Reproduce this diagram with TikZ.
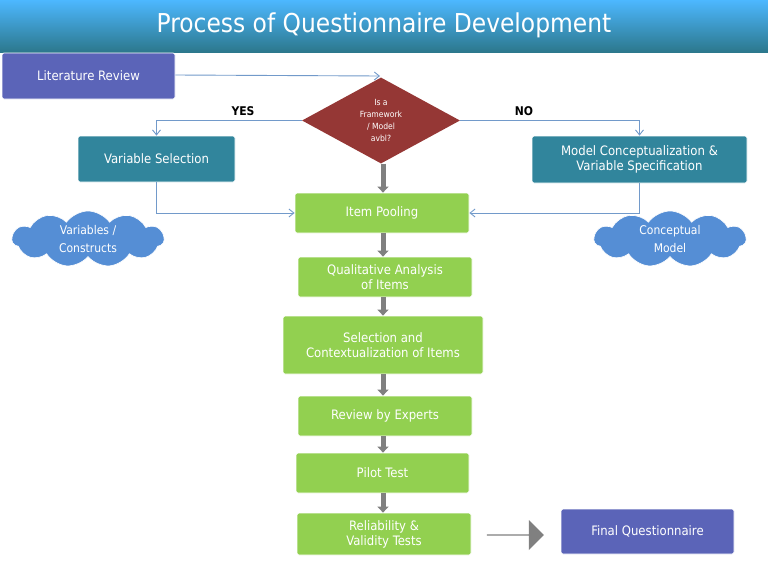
\documentclass[tikz,border=0pt]{standalone}
\usepackage{fontspec}
\setmainfont{DejaVu Sans Condensed}
\usetikzlibrary{shapes.geometric,shapes.symbols,shapes.arrows,arrows.meta}
\definecolor{purp}{HTML}{5B64B8}
\definecolor{teal}{HTML}{31859C}
\definecolor{grn}{HTML}{92D050}
\definecolor{dred}{HTML}{953735}
\definecolor{cld}{HTML}{558ED5}
\definecolor{blu}{HTML}{4F81BD}
\begin{document}
\begin{tikzpicture}[x=1pt,y=-1pt,
 box/.style={draw=white,line width=0.8pt,rounded corners=2pt,text=white,align=center,font=\fontsize{13}{15}\selectfont,inner sep=2pt},
 conn/.style={draw=blu!80,line width=0.9pt,-{Straight Barb[length=5pt,width=8pt]}},
 garr/.style={draw=gray,line width=5pt,-{Triangle[length=6pt,width=11pt]}},
 cloudn/.style={cloud,cloud puffs=11,cloud puff arc=110,aspect=2.6,fill=cld,draw=white,line width=0.6pt,text=white,align=center,font=\fontsize{12}{18}\selectfont,inner sep=0pt}]
\useasboundingbox (0,0) rectangle (768,576);
\shade[top color=cyan!60!blue!70,bottom color=teal!90!black] (0,0) rectangle (768,52);
\node[text=white,font=\fontsize{26}{28}\selectfont] (title) at (384,25) {Process of Questionnaire Development};
\node[box,fill=purp,minimum width=173pt,minimum height=46pt] (lit) at (88.5,76) {Literature Review};
\node[diamond,fill=dred,minimum width=158pt,minimum height=86pt,inner sep=0pt,aspect=1.85,text=white,align=center,font=\fontsize{8.5}{12}\selectfont] (dia) at (381,120.5) {Is a\\Framework\\/ Model\\avbl?};
\node[font=\bfseries\fontsize{12}{14}\selectfont] (yes) at (243,111) {YES};
\node[font=\bfseries\fontsize{12}{14}\selectfont] (no) at (524,111) {NO};
\node[box,fill=teal,minimum width=157pt,minimum height=46pt] (var) at (156.5,159) {Variable Selection};
\node[box,fill=teal,minimum width=215pt,minimum height=47pt] (mod) at (639.5,159.5) {Model Conceptualization \&\\Variable Specification};
\node[box,fill=grn,minimum width=174pt,minimum height=40pt] (pool) at (382,213) {Item Pooling};
\node[box,fill=grn,minimum width=174pt,minimum height=40pt] (qual) at (385,277) {Qualitative Analysis\\of Items};
\node[box,fill=grn,minimum width=200pt,minimum height=58pt] (sel) at (383,345) {Selection and\\Contextualization of Items};
\node[box,fill=grn,minimum width=174pt,minimum height=40pt] (rev) at (385,416) {Review by Experts};
\node[box,fill=grn,minimum width=173pt,minimum height=40pt] (pil) at (382.5,473) {Pilot Test};
\node[box,fill=grn,minimum width=174pt,minimum height=42pt] (rel) at (384,534) {Reliability \&\\Validity Tests};
\node[box,fill=purp,minimum width=173pt,minimum height=45pt] (fin) at (647.5,531.5) {Final Questionnaire};
\node[cloudn,minimum width=152pt,minimum height=56pt] (c1) at (88,239) {Variables /\\Constructs};
\node[cloudn,minimum width=152pt,minimum height=56pt] (c2) at (670,239) {Conceptual\\Model};
\coordinate (dtop) at (380,76);
\draw[conn] (lit.east |- 0,75) -- (dtop);
\draw[conn] (dia.west) -| (var.north);
\draw[conn] (dia.east) -| (mod.north);
\draw[conn] (var.south) |- (pool.west);
\draw[conn] (mod.south) |- (pool.east);
\draw[garr] (dia.south -| 383,0) -- (pool.north -| 383,0);
\draw[garr] (pool.south -| 383,0) -- (qual.north -| 383,0);
\draw[garr] (qual.south -| 383,0) -- (sel.north -| 383,0);
\draw[garr] (sel.south -| 383,0) -- (rev.north -| 383,0);
\draw[garr] (rev.south -| 383,0) -- (pil.north -| 383,0);
\draw[garr] (pil.south -| 383,0) -- (rel.north -| 383,0);
\node[single arrow,fill=gray,minimum height=57pt,minimum width=30pt,single arrow head extend=5pt,inner sep=0pt,shape border rotate=0] (big) at (515,535) {};
\end{tikzpicture}
\end{document}
